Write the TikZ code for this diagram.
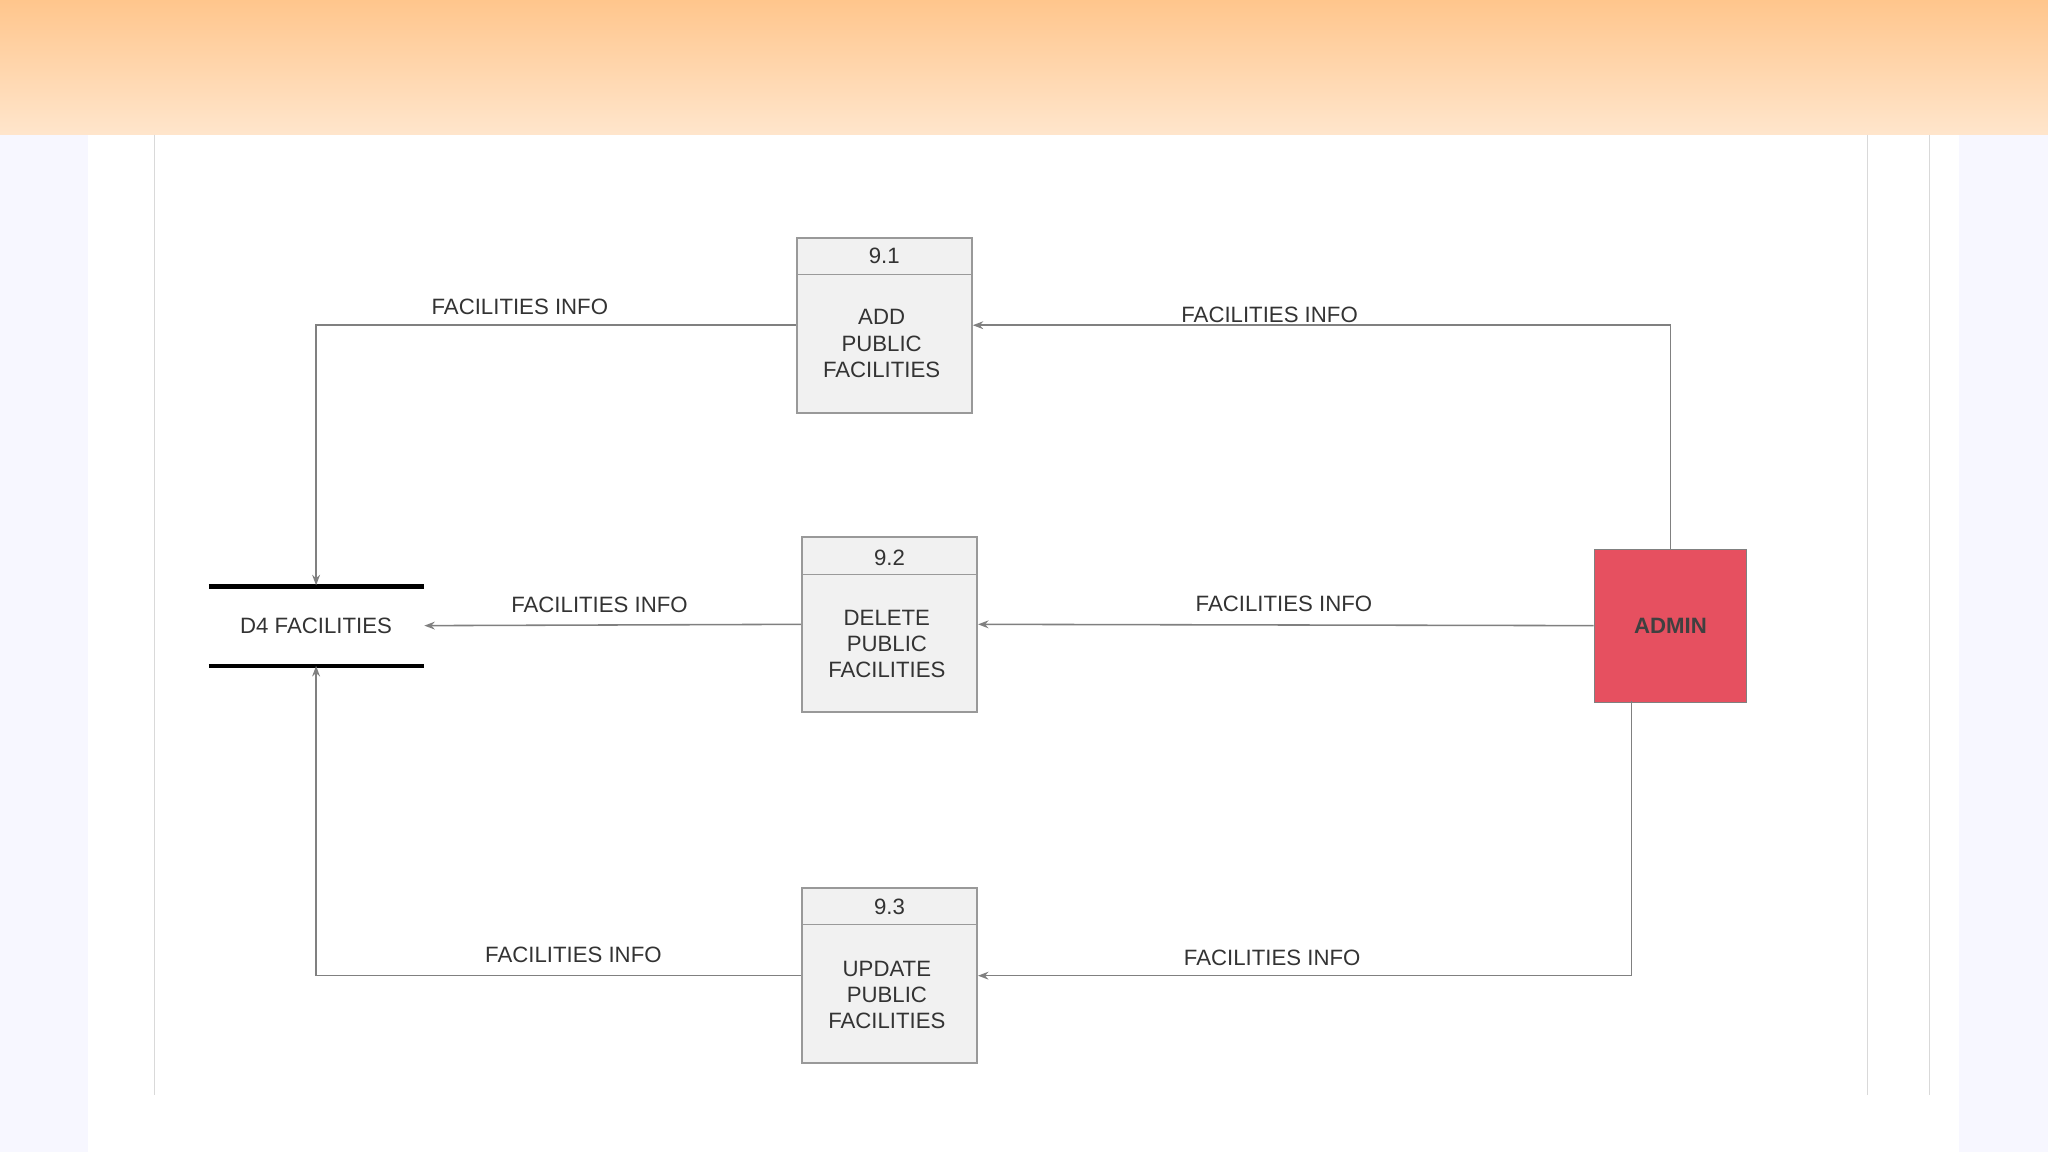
\documentclass[tikz,border=0pt]{standalone}
\usepackage{fontspec}
\setmainfont{Liberation Sans}
\usetikzlibrary{arrows.meta}
\definecolor{adm}{HTML}{E65060}
\definecolor{bx}{HTML}{F1F1F1}
\definecolor{ln}{HTML}{808080}
\begin{document}
\begin{tikzpicture}[x=0.5pt,y=-0.5pt,
  proc/.style={draw=ln!80,fill=bx,line width=0.8pt,minimum width=67pt,minimum height=67pt,inner sep=0},
  flow/.style={draw=ln,line width=0.6pt,-{Stealth[length=4pt,width=3pt]}},
  lbl/.style={font=\fontsize{8.5}{10}\selectfont,text=black!80},
  txt/.style={font=\fontsize{8.5}{10}\selectfont,align=center,text=black!80}]
\useasboundingbox (0,0) rectangle (1568,882);
% background
\shade[top color=orange!45!white,bottom color=orange!20!white] (0,0) rectangle (1568,103);
\fill[blue!3!white] (0,103) rectangle (1568,882);
\fill[white] (67,103) rectangle (1500,882);
\draw[black!15] (118,103) -- (118,838) (1430,103) -- (1430,838) (1477,103) -- (1477,838);
% processes
\node[proc] (p1) at (677,249) {};
\draw[ln!80] (610,210) -- (744,210);
\node[txt] (p1n) at (677,196) {9.1};
\node[txt] (p1t) at (675,263) {ADD\\PUBLIC\\FACILITIES};
\node[proc] (p2) at (681,478) {};
\draw[ln!80] (614,440) -- (748,440);
\node[txt] (p2n) at (681,427) {9.2};
\node[txt] (p2t) at (679,493) {DELETE\\PUBLIC\\FACILITIES};
\node[proc] (p3) at (681,747) {};
\draw[ln!80] (614,708) -- (748,708);
\node[txt] (p3n) at (681,694) {9.3};
\node[txt] (p3t) at (679,762) {UPDATE\\PUBLIC\\FACILITIES};
% store
\node[minimum width=82.5pt,minimum height=30.5pt,inner sep=0] (st) at (242,479) {};
\draw[line width=1.8pt] (160,449) -- (325,449) (160,510) -- (325,510);
\node[txt] (stt) at (242,479) {D4 FACILITIES};
% admin
\node[draw=ln,fill=adm,minimum width=58.5pt,minimum height=58.5pt,inner sep=0,font=\fontsize{8.5}{10}\selectfont\bfseries,text=black!75] (ad) at (1279,479) {ADMIN};
% flows
\draw[flow] (ad.north) |- (p1.east);
\draw[flow] (p1.west) -| (st.north);
\draw[flow] (ad.west) -- (p2.east);
\draw[flow] (p2.west) -- (st.east);
\coordinate (ab) at (1249,537);
\draw[flow] (ab) |- (p3.east);
\draw[flow] (p3.west) -| (st.south);
% labels
\node[lbl] at (398,235) {FACILITIES INFO};
\node[lbl] at (972,241) {FACILITIES INFO};
\node[lbl] at (459,463) {FACILITIES INFO};
\node[lbl] at (983,462) {FACILITIES INFO};
\node[lbl] at (439,731) {FACILITIES INFO};
\node[lbl] at (974,733) {FACILITIES INFO};
\end{tikzpicture}
\end{document}
